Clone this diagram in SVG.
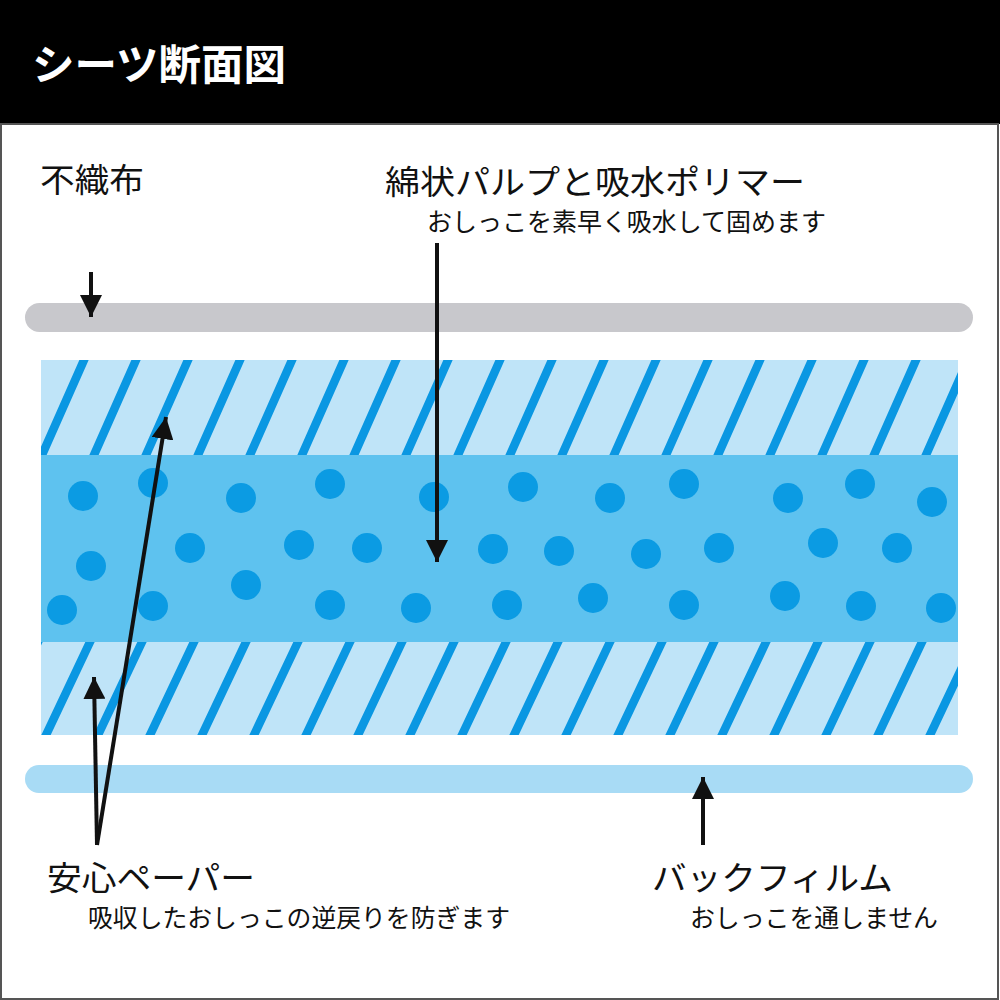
<svg xmlns="http://www.w3.org/2000/svg" width="1000" height="1000" viewBox="0 0 1000 1000">
<defs>
<style>
.t{font-family:"Noto Sans CJK JP","Noto Sans CJK SC",sans-serif;fill:#111}
.big{font-size:33px}
.small{font-size:25px}
.arr{stroke:#111;stroke-width:4;fill:none;marker-end:url(#ah)}
.stripe{stroke:#0a97e2;stroke-width:8.5;fill:none;stroke-linecap:square}
.dot{fill:#0b9be3}
</style>
<marker id="ah" markerUnits="userSpaceOnUse" markerWidth="22" markerHeight="22" refX="22" refY="11" orient="auto" viewBox="0 0 22 22">
<path d="M0 0 L22 11 L0 22 Z" fill="#111"/>
</marker>
<clipPath id="cTop"><rect x="41" y="360" width="917" height="95"/></clipPath>
<clipPath id="cBot"><rect x="41" y="642" width="917" height="93"/></clipPath>
</defs>
<rect x="0" y="0" width="1000" height="1000" fill="#fff"/>
<g id="header">
<rect x="0" y="0" width="1000" height="124" fill="#000"/>
<text x="32" y="80" style="font-family:'Noto Sans CJK JP',sans-serif;font-size:42px;font-weight:bold;fill:#fff" textLength="254" lengthAdjust="spacingAndGlyphs">シーツ断面図</text>
</g>
<rect x="1" y="124" width="997" height="875" fill="none" stroke="#555" stroke-width="2"/>
<g id="nonwoven">
<rect x="25" y="303" width="948" height="29" rx="14.5" fill="#c8c8cc"/>
</g>
<g id="paper-top">
<rect x="41" y="360" width="917" height="95" fill="#bfe4f8"/>
<path class="stripe" clip-path="url(#cTop)" d="M-10 455L32 360M42 455L84 360M94 455L136 360M146 455L188 360M198 455L240 360M250 455L292 360M302 455L344 360M354 455L396 360M406 455L448 360M458 455L500 360M510 455L552 360M562 455L604 360M614 455L656 360M666 455L708 360M718 455L760 360M770 455L812 360M822 455L864 360M874 455L916 360M926 455L968 360M978 455L1020 360"/>
</g>
<g id="pulp">
<rect x="41" y="455" width="917" height="187" fill="#5ec2ef"/>
<g class="dot">
<circle cx="83" cy="496" r="15"/><circle cx="153" cy="483" r="15"/><circle cx="241" cy="498" r="15"/><circle cx="330" cy="484" r="15"/><circle cx="434" cy="497" r="15"/><circle cx="523" cy="487" r="15"/><circle cx="610" cy="498" r="15"/><circle cx="684" cy="484" r="15"/><circle cx="788" cy="498" r="15"/><circle cx="860" cy="484" r="15"/><circle cx="932" cy="502" r="15"/>
<circle cx="91" cy="566" r="15"/><circle cx="190" cy="548" r="15"/><circle cx="299" cy="545" r="15"/><circle cx="367" cy="548" r="15"/><circle cx="493" cy="549" r="15"/><circle cx="559" cy="551" r="15"/><circle cx="646" cy="554" r="15"/><circle cx="719" cy="548" r="15"/><circle cx="823" cy="543" r="15"/><circle cx="897" cy="548" r="15"/>
<circle cx="62" cy="610" r="15"/><circle cx="153" cy="606" r="15"/><circle cx="246" cy="585" r="15"/><circle cx="330" cy="605" r="15"/><circle cx="416" cy="608" r="15"/><circle cx="507" cy="605" r="15"/><circle cx="593" cy="598" r="15"/><circle cx="684" cy="605" r="15"/><circle cx="785" cy="596" r="15"/><circle cx="861" cy="606" r="15"/><circle cx="941" cy="608" r="15"/>
</g>
</g>
<g id="paper-bottom">
<rect x="41" y="642" width="917" height="93" fill="#bfe4f8"/>
<path class="stripe" clip-path="url(#cBot)" d="M-58 735L-14 642M-6 735L38 642M46 735L90 642M98 735L142 642M150 735L194 642M202 735L246 642M254 735L298 642M306 735L350 642M358 735L402 642M410 735L454 642M462 735L506 642M514 735L558 642M566 735L610 642M618 735L662 642M670 735L714 642M722 735L766 642M774 735L818 642M826 735L870 642M878 735L922 642M930 735L974 642M982 735L1026 642"/>
</g>
<g id="backfilm">
<rect x="25" y="765" width="948" height="28" rx="14" fill="#a8dbf5"/>
</g>
<g id="connectors">
<path class="arr" d="M91 272 L91 317"/>
<path class="arr" d="M437 243 L437 562"/>
<path class="arr" d="M97 845 L166 417"/>
<path class="arr" d="M97 845 L94 677"/>
<path class="arr" d="M703 845 L703 777"/>
</g>
<g id="label-nonwoven">
<text class="t big" x="40" y="192" textLength="104" lengthAdjust="spacingAndGlyphs">不織布</text>
</g>
<g id="label-pulp">
<text class="t big" x="385" y="194" textLength="420" lengthAdjust="spacingAndGlyphs">綿状パルプと吸水ポリマー</text>
<text class="t small" x="427" y="231" textLength="399" lengthAdjust="spacingAndGlyphs">おしっこを素早く吸水して固めます</text>
</g>
<g id="label-paper">
<text class="t big" x="47" y="890" textLength="208" lengthAdjust="spacingAndGlyphs">安心ペーパー</text>
<text class="t small" x="88" y="927" textLength="422" lengthAdjust="spacingAndGlyphs">吸収したおしっこの逆戻りを防ぎます</text>
</g>
<g id="label-film">
<text class="t big" x="652" y="890" textLength="241" lengthAdjust="spacingAndGlyphs">バックフィルム</text>
<text class="t small" x="690" y="927" textLength="248" lengthAdjust="spacingAndGlyphs">おしっこを通しません</text>
</g>
</svg>
